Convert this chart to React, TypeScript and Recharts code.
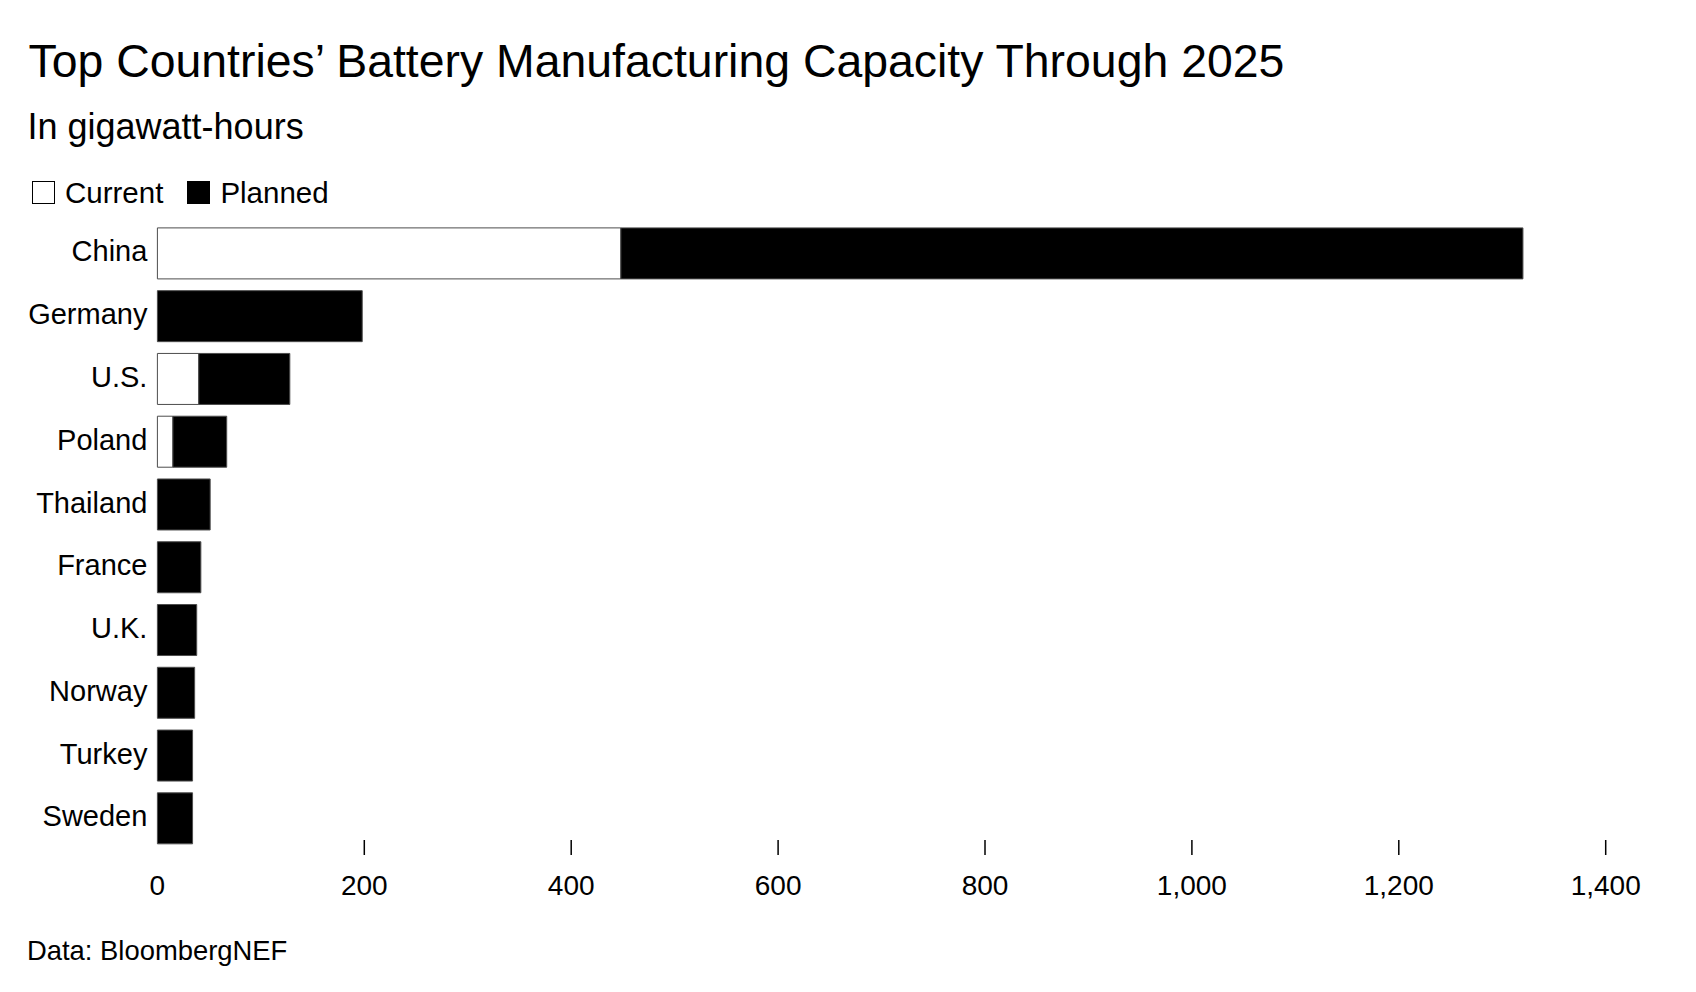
import { BarChart, Bar, XAxis, YAxis } from "recharts";

const countries = ["China", "Germany", "U.S.", "Poland", "Thailand", "France", "U.K.", "Norway", "Turkey", "Sweden"];
const currentCapacity = [448, 0, 40, 15, 0, 0, 0, 0, 0, 0];
const plannedCapacity = [872, 198, 88, 52, 51, 42, 38, 36, 34, 34];
const xTicks = [0, 200, 400, 600, 800, 1000, 1200, 1400];

const series = [
  { key: "current", name: "Current", fill: "#ffffff" },
  { key: "planned", name: "Planned", fill: "#000000" },
];

const data = countries.map((country, i) => ({
  country,
  current: currentCapacity[i],
  planned: plannedCapacity[i],
}));

const FONT = '"Liberation Sans", Arial, Helvetica, sans-serif';

const XTick = ({ x, y, payload }: any) => (
  <g>
    {payload.value !== 0 && (
      <line x1={x} x2={x} y1={y - 9.6} y2={y + 5.4} stroke="#000" strokeWidth={1.5} />
    )}
    <text x={x} y={y + 45.4} textAnchor="middle" fontSize={28} fontFamily={FONT} fill="#000">
      {payload.value.toLocaleString("en-US")}
    </text>
  </g>
);

const YTick = ({ x, y, payload }: any) => (
  <text x={x} y={y + 8.2} textAnchor="end" fontSize={29} fontFamily={FONT} fill="#000">
    {payload.value}
  </text>
);

// legend drawn outside the chart so it doesn't eat plot space
const ChartLegend = () => (
  <div
    style={{
      position: "absolute",
      left: 32,
      top: 177.5,
      display: "flex",
      alignItems: "flex-start",
      fontSize: 29.5,
      lineHeight: "29.5px",
      whiteSpace: "nowrap",
    }}
  >
    {series.map((s, i) => {
      const open = s.fill === "#ffffff";
      return (
        <div key={s.key} style={{ display: "flex", alignItems: "flex-start", marginRight: i === 0 ? 24 : 0 }}>
          <div
            style={{
              boxSizing: "border-box",
              width: 23,
              height: 23,
              marginTop: 3.5,
              background: s.fill,
              border: open ? "1.5px solid #000" : "none",
            }}
          />
          <span style={{ marginLeft: 10, color: "#000" }}>{s.name}</span>
        </div>
      );
    })}
  </div>
);

export default function App() {
  return (
    <div style={{ position: "absolute", left: 0, top: 0, width: 1696, height: 992, background: "#fff", fontFamily: FONT }}>
      <div style={{ position: "absolute", left: 28.5, top: 38, fontSize: 46.4, lineHeight: "46.4px", color: "#000", whiteSpace: "nowrap" }}>
        Top Countries’ Battery Manufacturing Capacity Through 2025
      </div>
      <div style={{ position: "absolute", left: 27.5, top: 108.8, fontSize: 36, lineHeight: "36px", color: "#000", whiteSpace: "nowrap" }}>
        In gigawatt-hours
      </div>
      <ChartLegend />
      <div style={{ position: "absolute", left: 0, top: 0 }}>
        <BarChart
          width={1696}
          height={992}
          data={data}
          layout="vertical"
          margin={{ top: 221.9, right: 90.3, bottom: 82.4, left: 7.4 }}
          barSize={51}
        >
          <XAxis
            type="number"
            domain={[0, 1400]}
            ticks={xTicks}
            interval={0}
            axisLine={false}
            tickLine={false}
            tickSize={0}
            tickMargin={0}
            height={60}
            tick={<XTick />}
          />
          <YAxis
            type="category"
            dataKey="country"
            width={150}
            interval={0}
            axisLine={false}
            tickLine={false}
            tickSize={0}
            tickMargin={10}
            tick={<YTick />}
          />
          {series.map((s) => (
            <Bar
              key={s.key}
              dataKey={s.key}
              name={s.name}
              stackId="capacity"
              fill={s.fill}
              stroke="#4d4d4d"
              strokeWidth={1}
              isAnimationActive={false}
            />
          ))}
        </BarChart>
      </div>
      <div style={{ position: "absolute", left: 27, top: 937.3, fontSize: 27.4, lineHeight: "27.4px", color: "#000", whiteSpace: "nowrap" }}>
        Data: BloombergNEF
      </div>
    </div>
  );
}
